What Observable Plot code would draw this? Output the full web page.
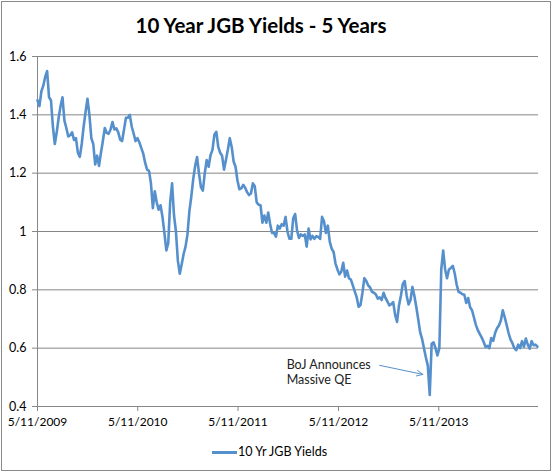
<!DOCTYPE html>
<html>
<head>
<meta charset="utf-8">
<script src="https://cdn.jsdelivr.net/npm/d3@7"></script>
<script src="https://cdn.jsdelivr.net/npm/@observablehq/plot@0.6"></script>
<style>
  body { margin: 0; background: #fff; }
  #chart { position: relative; width: 554px; height: 473px; font-family: Lato, "Open Sans", sans-serif; color: #000; overflow: hidden; }
  #chart svg { position: absolute; left: 0; top: 0; }
  #frame { position: absolute; left: 1px; top: 1px; width: 548px; height: 468px; border: 1.5px solid #8a8a8a; pointer-events: none; }
  #title { position: absolute; left: 0; top: 15px; width: 522px; text-align: center; font-size: 20.5px; line-height: 20px; font-weight: bold; }
  #legend { position: absolute; left: 0; top: 444px; width: 554px; height: 16px; }
  #legend .swatch { position: absolute; left: 212px; top: 7px; width: 25px; height: 2.5px; background: #5590cc; }
  #legend .label { position: absolute; left: 238px; top: 0; font-size: 12.5px; line-height: 16px; }
</style>
</head>
<body>
<div id="chart">
  <div id="title">10 Year JGB Yields - 5 Years</div>
  <div id="legend"><div class="swatch"></div><div class="label">10 Yr JGB Yields</div></div>
  <div id="frame"></div>
</div>
<script>
// Weekly 10-year JGB yield readings (%), starting Monday 11 May 2009
const seriesName = "10 Yr JGB Yields";
const firstWeek = "2009-05-11";
const lastDay = "2014-05-09";
const weeklyYields = [
  1.45, 1.43, 1.48, 1.50, 1.53, 1.55, 1.46, 1.45, 1.36, 1.30,
  1.34, 1.39, 1.43, 1.46, 1.38, 1.355, 1.326, 1.33, 1.34, 1.314,
  1.32, 1.27, 1.256, 1.30, 1.36, 1.41, 1.455, 1.40, 1.32, 1.30,
  1.23, 1.26, 1.225, 1.27, 1.31, 1.355, 1.338, 1.335, 1.35, 1.375,
  1.35, 1.354, 1.34, 1.315, 1.31, 1.35, 1.39, 1.39, 1.40, 1.36,
  1.336, 1.31, 1.32, 1.305, 1.286, 1.267, 1.235, 1.212, 1.208, 1.165,
  1.08, 1.138, 1.10, 1.075, 1.09, 1.05, 0.995, 0.935, 0.96, 1.10,
  1.165, 1.055, 1.00, 0.90, 0.855, 0.888, 0.923, 0.948, 0.99, 1.07,
  1.12, 1.18, 1.225, 1.255, 1.198, 1.152, 1.14, 1.20, 1.245, 1.222,
  1.262, 1.28, 1.332, 1.342, 1.29, 1.27, 1.26, 1.212, 1.245, 1.28,
  1.32, 1.29, 1.24, 1.222, 1.175, 1.145, 1.148, 1.16, 1.15, 1.135,
  1.125, 1.13, 1.165, 1.155, 1.10, 1.092, 1.09, 1.03, 1.055, 1.03,
  1.065, 1.026, 0.995, 0.995, 0.982, 1.02, 1.01, 1.025, 1.02, 1.05,
  1.00, 0.975, 0.975, 1.045, 1.06, 1.003, 0.978, 0.99, 0.985, 0.99,
  0.948, 1.01, 0.973, 0.985, 0.975, 0.984, 0.981, 0.975, 1.05, 1.035,
  0.995, 1.02, 0.965, 0.941, 0.93, 0.89, 0.87, 0.853, 0.862, 0.893,
  0.845, 0.866, 0.84, 0.835, 0.815, 0.795, 0.775, 0.742, 0.748, 0.79,
  0.84, 0.83, 0.815, 0.808, 0.793, 0.79, 0.784, 0.77, 0.774, 0.765,
  0.79, 0.772, 0.76, 0.747, 0.751, 0.758, 0.714, 0.69, 0.746, 0.78,
  0.82, 0.83, 0.78, 0.75, 0.765, 0.81, 0.78, 0.742, 0.70, 0.655,
  0.632, 0.60, 0.568, 0.54, 0.44, 0.615, 0.62, 0.60, 0.575, 0.60,
  0.87, 0.935, 0.87, 0.84, 0.87, 0.875, 0.882, 0.856, 0.818, 0.793,
  0.79, 0.785, 0.783, 0.755, 0.772, 0.74, 0.73, 0.705, 0.68, 0.662,
  0.649, 0.637, 0.622, 0.605, 0.608, 0.60, 0.635, 0.625, 0.652, 0.668,
  0.678, 0.695, 0.73, 0.706, 0.68, 0.652, 0.63, 0.617, 0.60, 0.593,
  0.612, 0.60, 0.624, 0.605, 0.633, 0.612, 0.598, 0.624, 0.61, 0.612,
  0.605
];

// Axis ticks
const xTickDates = ["2009-05-11", "2010-05-11", "2011-05-11", "2012-05-11", "2013-05-11"];
const yTickValues = [0.4, 0.6, 0.8, 1.0, 1.2, 1.4, 1.6];

// Callout for the April 2013 policy announcement
const noteText = "BoJ Announces\nMassive QE";
const noteDate = "2011-11-04";
const noteYield = 0.52;
const arrowFrom = {date: "2012-10-08", yield: 0.541};
const arrowTo = {date: "2013-03-14", yield: 0.510};

const parse = d3.utcParse("%Y-%m-%d");
const start = parse(firstWeek);
const rows = weeklyYields.map((v, i) => ({date: d3.utcDay.offset(start, 7 * i), yield: v}));

const gridGrey = "#868686";
const lineBlue = "#5590cc";

const plot = Plot.plot({
  width: 554,
  height: 473,
  marginTop: 56,
  marginBottom: 67,
  marginLeft: 37,
  marginRight: 16,
  style: {fontFamily: "Lato, 'Open Sans', sans-serif", fontSize: "12px", color: "#000", background: "transparent"},
  x: {type: "utc", domain: [start, parse(lastDay)], label: null},
  y: {domain: [0.4, 1.6], label: null},
  marks: [
    Plot.ruleY(yTickValues, {stroke: gridGrey, strokeWidth: 1}),
    Plot.ruleX([start], {stroke: gridGrey, strokeWidth: 1}),
    Plot.axisY(yTickValues, {
      tickSize: 5, tickPadding: 6, stroke: gridGrey, fill: "#000", label: null,
      tickFormat: d => d3.format("~g")(d), fontSize: 12.5
    }),
    Plot.axisX(xTickDates.map(parse), {
      tickSize: 5, tickPadding: 6, stroke: gridGrey, fill: "#000", label: null,
      tickFormat: d3.utcFormat("%-m/%-d/%Y"), fontSize: 12
    }),
    Plot.line(rows, {x: "date", y: "yield", stroke: lineBlue, strokeWidth: 2.6, strokeLinejoin: "round"}),
    Plot.arrow([{}], {
      x1: () => parse(arrowFrom.date), y1: () => arrowFrom.yield,
      x2: () => parse(arrowTo.date), y2: () => arrowTo.yield,
      stroke: lineBlue, strokeWidth: 1, headLength: 10, headAngle: 50
    }),
    Plot.text([noteText], {
      x: () => parse(noteDate), y: () => noteYield, text: d => d,
      textAnchor: "start", lineAnchor: "middle", lineHeight: 1.25, fontSize: 12.5, fill: "#222"
    })
  ]
});

document.getElementById("chart").prepend(plot);
</script>
</body>
</html>
